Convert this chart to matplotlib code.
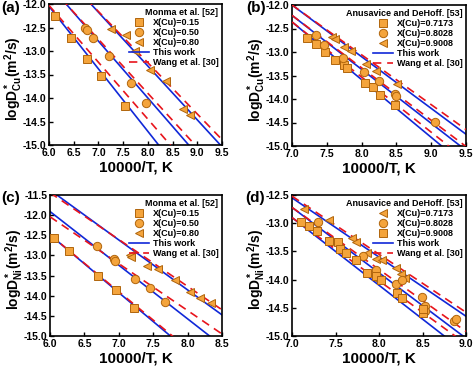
import matplotlib
matplotlib.use("Agg")
import matplotlib.pyplot as plt
import numpy as np
from matplotlib.lines import Line2D

plt.rcParams["font.family"] = ["Liberation Sans", "DejaVu Sans"]
plt.rcParams["font.weight"] = "bold"
plt.rcParams["mathtext.fontset"] = "custom"
plt.rcParams["mathtext.rm"] = "Liberation Sans:bold"
plt.rcParams["mathtext.it"] = "Liberation Sans:bold"
plt.rcParams["mathtext.bf"] = "Liberation Sans:bold"

# ---- panel (a): Cu tracer, Monma et al.
a_sq_x = [6.12, 6.45, 6.76, 7.06, 7.53]
a_sq_y = [-12.25, -12.72, -13.16, -13.53, -14.17]
a_ci_x = [6.72, 6.76, 6.89, 7.21, 7.66, 7.97]
a_ci_y = [-12.51, -12.56, -12.72, -13.11, -13.68, -14.11]
a_tr_x = [7.25, 7.55, 7.74, 8.04, 8.37, 8.72, 8.86]
a_tr_y = [-12.53, -12.67, -13.00, -13.41, -13.63, -14.24, -14.36]
# Arrhenius fits: logD = intercept + slope * (10000/T)
a_blue = [(-4.07, -1.33), (-4.32, -1.21), (-4.16, -1.145)]
a_red = [(-4.77, -1.21), (-4.70, -1.15), (-4.53, -1.09)]

# ---- panel (b): Cu tracer, Anusavice and DeHoff
b_sq_x = [7.22, 7.34, 7.48, 7.62, 7.74, 7.79, 8.05, 8.16, 8.26, 8.48]
b_sq_y = [-12.71, -12.84, -13.01, -13.18, -13.28, -13.35, -13.67, -13.74, -13.92, -14.13]
b_ci_x = [7.34, 7.46, 7.73, 8.04, 8.25, 8.48, 8.50, 9.05]
b_ci_y = [-12.64, -12.85, -13.13, -13.42, -13.62, -13.90, -13.94, -14.48]
b_tr_x = [7.57, 7.62, 7.74, 7.85, 8.07, 8.20, 8.51]
b_tr_y = [-12.68, -12.73, -12.89, -12.98, -13.26, -13.40, -13.69]
b_blue = [(-3.764, -1.228), (-4.177, -1.149), (-4.30, -1.10)]
b_red = [(-4.149, -1.173), (-4.408, -1.116), (-4.58, -1.06)]

# ---- panel (c): Ni tracer, Monma et al.
c_sq_x = [6.06, 6.27, 6.70, 6.96, 7.22]
c_sq_y = [-12.56, -12.90, -13.52, -13.87, -14.31]
c_ci_x = [6.69, 6.93, 6.94, 7.24, 7.45, 7.67]
c_ci_y = [-12.76, -13.09, -13.15, -13.58, -13.80, -14.15]
c_tr_x = [7.16, 7.18, 7.41, 7.57, 7.81, 8.03, 8.18, 8.34]
c_tr_y = [-13.00, -13.04, -13.26, -13.34, -13.61, -13.90, -14.06, -14.19]
c_blue = [(-3.886, -1.434), (-3.918, -1.332), (-3.936, -1.24)]
c_red = [(-4.03, -1.41), (-5.056, -1.164), (-4.464, -1.163)]

# ---- panel (d): Ni tracer, Anusavice and DeHoff
d_tr_x = [7.14, 7.42, 7.69, 7.73, 7.86, 7.97, 8.04, 8.19, 8.25, 8.30]
d_tr_y = [-12.75, -12.94, -13.27, -13.33, -13.52, -13.63, -13.66, -13.79, -13.90, -13.98]
d_ci_x = [7.30, 7.82, 7.97, 7.98, 8.20, 8.26, 8.49, 8.53, 8.53, 8.86, 8.88]
d_ci_y = [-12.98, -13.58, -13.83, -13.95, -14.08, -14.00, -14.30, -14.47, -14.55, -14.73, -14.70]
d_sq_x = [7.10, 7.19, 7.29, 7.42, 7.53, 7.55, 7.62, 7.73, 7.86, 7.97, 8.02, 8.21, 8.27, 8.50, 8.51]
d_sq_y = [-12.97, -13.05, -13.14, -13.31, -13.33, -13.46, -13.53, -13.65, -13.89, -13.94,
          -14.01, -14.24, -14.32, -14.60, -14.52]
d_blue = [(-5.20, -1.05), (-4.60, -1.16), (-4.50, -1.20)]
d_red = [(-5.31, -1.03), (-5.02, -1.10), (-5.06, -1.12)]

FACE = "#F4A43C"
EDGE = "#B0650C"
BLUE = "#1028D8"
RED = "#E8141C"

W, H = 474, 366
fig = plt.figure(figsize=(W / 100, H / 100), dpi=100)


def px_axes(left, top, right, bottom):
    return fig.add_axes([left / W, 1 - bottom / H, (right - left) / W, (bottom - top) / H])


def draw_panel(ax, series, blue, red, xlim, ylim, xticks, yticks, title, ylabel):
    xs = np.array(xlim, dtype=float)
    for b0, b1 in blue:
        ax.plot(xs, b0 + b1 * xs, color=BLUE, lw=1.2, zorder=2)
    for r0, r1 in red:
        ax.plot(xs, r0 + r1 * xs, color=RED, lw=1.2, ls=(0, (5, 3.5)), zorder=3)
    for x, y, m, lab in series:
        ax.plot(x, y, ls="none", marker=m, ms=6, mfc=FACE, mec=EDGE, mew=0.7,
                label=lab, zorder=4)
    handles, labels = ax.get_legend_handles_labels()
    handles += [Line2D([0], [0], color=BLUE, lw=1.2),
                Line2D([0], [0], color=RED, lw=1.2, ls=(0, (5, 3.5)))]
    labels += ["This work", "Wang et al. [30]"]
    leg = ax.legend(handles, labels, loc="upper right", frameon=False, fontsize=6.5,
                    title=title, title_fontproperties={"weight": "bold", "size": 6.5},
                    labelspacing=0.12, handlelength=2.2, handletextpad=0.4,
                    borderpad=0.2, borderaxespad=0.2)
    leg._legend_box.align = "right"
    ax.set_xlim(xlim)
    ax.set_ylim(ylim)
    ax.set_xticks(xticks)
    ax.set_yticks(yticks)
    ax.set_xticklabels([f"{v:.1f}" for v in xticks])
    ax.set_yticklabels([f"{v:.1f}" for v in yticks])
    ax.tick_params(direction="in", length=3, width=1, labelsize=7.5, pad=2)
    for s in ax.spines.values():
        s.set_linewidth(1.2)
    ax.set_xlabel("10000/T, K", fontsize=11, fontweight="bold", labelpad=2)
    ax.set_ylabel(ylabel, fontsize=10, fontweight="bold")
    ax.yaxis.set_label_coords(-0.14, 0.47)


ax_a = px_axes(49, 4, 222, 145)
draw_panel(ax_a,
           [(a_sq_x, a_sq_y, "s", "X(Cu)=0.15"),
            (a_ci_x, a_ci_y, "o", "X(Cu)=0.50"),
            (a_tr_x, a_tr_y, "<", "X(Cu)=0.80")],
           a_blue, a_red, (6.0, 9.5), (-15.0, -12.0),
           np.arange(6.0, 9.51, 0.5), np.arange(-15.0, -11.99, 0.5),
           "Monma et al. [52]", r"logD$^*_{Cu}$(m$^2$/s)")

ax_b = px_axes(292, 5, 466, 146)
draw_panel(ax_b,
           [(b_sq_x, b_sq_y, "s", "X(Cu)=0.7173"),
            (b_ci_x, b_ci_y, "o", "X(Cu)=0.8028"),
            (b_tr_x, b_tr_y, "<", "X(Cu)=0.9008")],
           b_blue, b_red, (7.0, 9.5), (-15.0, -12.0),
           np.arange(7.0, 9.51, 0.5), np.arange(-15.0, -11.99, 0.5),
           "Anusavice and DeHoff. [53]", r"logD$^*_{Cu}$(m$^2$/s)")

ax_c = px_axes(50, 195, 222, 336)
draw_panel(ax_c,
           [(c_sq_x, c_sq_y, "s", "X(Cu)=0.15"),
            (c_ci_x, c_ci_y, "o", "X(Cu)=0.50"),
            (c_tr_x, c_tr_y, "<", "X(Cu)=0.80")],
           c_blue, c_red, (6.0, 8.5), (-15.0, -11.5),
           np.arange(6.0, 8.51, 0.5), np.arange(-15.0, -11.49, 0.5),
           "Monma et al. [52]", r"logD$^*_{Ni}$(m$^2$/s)")

ax_d = px_axes(292, 195, 466, 336)
draw_panel(ax_d,
           [(d_tr_x, d_tr_y, "<", "X(Cu)=0.7173"),
            (d_ci_x, d_ci_y, "o", "X(Cu)=0.8028"),
            (d_sq_x, d_sq_y, "s", "X(Cu)=0.9008")],
           d_blue, d_red, (7.0, 9.0), (-15.0, -12.5),
           np.arange(7.0, 9.01, 0.5), np.arange(-15.0, -12.49, 0.5),
           "Anusavice and DeHoff. [53]", r"logD$^*_{Ni}$(m$^2$/s)")

# panel letters, placed in figure pixels
for letter, x, y in [("(a)", 1, 8), ("(b)", 246, 8), ("(c)", 1, 198), ("(d)", 245, 198)]:
    fig.text(x / W, 1 - y / H, letter, fontsize=11, fontweight="bold",
             ha="left", va="center")

fig.savefig("out.png", dpi=100)
